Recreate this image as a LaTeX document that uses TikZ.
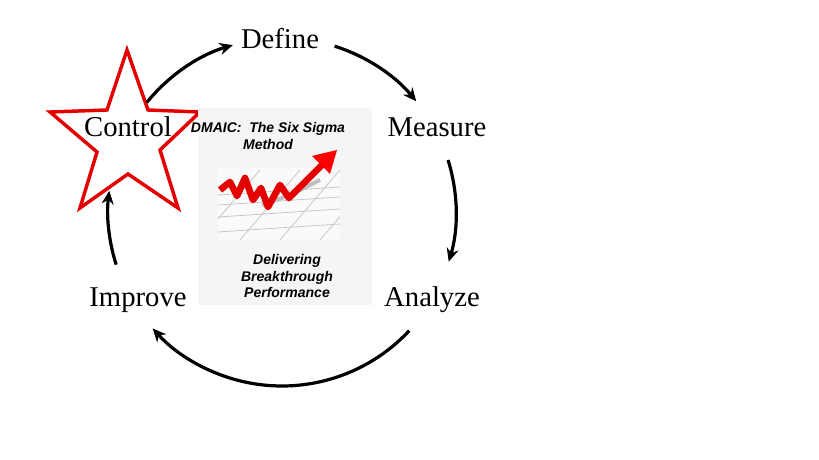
\documentclass[tikz,border=0pt]{standalone}
\usepackage{fontspec}
\setmainfont{Liberation Serif}
\setsansfont{Liberation Sans}
\usetikzlibrary{arrows.meta}
\begin{document}
\begin{tikzpicture}[x=0.75pt,y=-0.75pt,
  lbl/.style={font=\fontsize{21.5}{24}\selectfont},
  cyc/.style={line width=2.4pt,-{Stealth[length=10pt,width=9pt]}},
  captxt/.style={font=\sffamily\bfseries\itshape\fontsize{10.5}{12.5}\selectfont,align=center}]
\useasboundingbox (0,0) rectangle (819,460);
% star
\draw[red!90!black,line width=2.6pt,fill=white,line join=miter]
 (127,50) -- (148,110) -- (200,112) -- (160,150) -- (178,208) -- (128,174)
 -- (80,208) -- (97,152) -- (50,112) -- (107,110) -- cycle;
% centre image
\fill[gray!8] (198,108) rectangle (372,305);
\node[captxt] (t1) at (268,136) {DMAIC:\ \ The Six Sigma\\Method};
\node[captxt] (t2) at (287,276) {Delivering\\Breakthrough\\Performance};
\begin{scope}
\clip (218,168) rectangle (340,240);
\fill[gray!4] (218,168) rectangle (340,240);
\foreach \yy in {195,205,217,232} \draw[gray!45,line width=0.6pt] (218,\yy) -- (340,\yy-8);
\foreach \xx in {200,240,280,320,360,400} \draw[gray!45,line width=0.6pt] (\xx,240) -- (\xx+60,170);
\draw[gray!50,line width=3pt] (262,205) -- (290,195) -- (320,180);
\end{scope}
\draw[red!90!black,line width=5pt,line join=round]
 (220,190) -- (230,182) -- (237,196) -- (245,178) -- (253,200) -- (261,188) -- (268,207) -- (280,185) -- (289,198) -- (322,165);
\fill[red] (337,150) -- (312,156) -- (330,174) -- cycle;
% labels
\node[lbl] (D) at (280,39) {Define};
\node[lbl] (M) at (437,127) {Measure};
\node[lbl] (A) at (432,300) {Analyze};
\node[lbl] (I) at (138,300) {Improve};
\node[lbl] (C) at (128,127) {Control};
% cycle arrows
\coordinate (o) at (282,212);
\draw[cyc] (o) ++(-72.4:174) arc[start angle=-72.4,end angle=-39.5,radius=174];
\draw[cyc] (o) ++(-17.4:174) arc[start angle=-17.4,end angle=16.6,radius=174];
\draw[cyc] (o) ++(43:174) arc[start angle=43,end angle=138,radius=174];
\draw[cyc] (o) ++(162.4:174) arc[start angle=162.4,end angle=187,radius=174];
\draw[cyc] (o) ++(219:174) arc[start angle=219,end angle=253.6,radius=174];
\end{tikzpicture}
\end{document}
